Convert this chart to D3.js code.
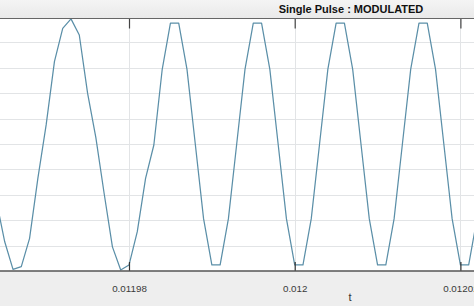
<!DOCTYPE html>
<html>
<head>
<meta charset="utf-8">
<script src="https://cdn.jsdelivr.net/npm/d3@7"></script>
<style>
  html, body { margin: 0; padding: 0; background: #ffffff; }
  svg { display: block; }
</style>
</head>
<body>
<svg id="chart" width="474" height="306"></svg>
<script>
// ---- data ----
const title = "Single Pulse : MODULATED";
const xLabel = "t";
const times = [
  0.011964, 0.011965, 0.011966, 0.011967, 0.011968, 0.011969, 0.011970, 0.011971,
  0.011972, 0.011973, 0.011974, 0.011975, 0.011976, 0.011977, 0.011978, 0.011979,
  0.011980, 0.011981, 0.011982, 0.011983, 0.011984, 0.011985, 0.011986, 0.011987,
  0.011988, 0.011989, 0.011990, 0.011991, 0.011992, 0.011993, 0.011994, 0.011995,
  0.011996, 0.011997, 0.011998, 0.011999, 0.012000, 0.012001, 0.012002, 0.012003,
  0.012004, 0.012005, 0.012006, 0.012007, 0.012008, 0.012009, 0.012010, 0.012011,
  0.012012, 0.012013, 0.012014, 0.012015, 0.012016, 0.012017, 0.012018, 0.012019,
  0.012020, 0.012021, 0.012022
];
const values = [
  -0.45, -0.77, -0.987, -0.966, -0.743, -0.27, 0.15, 0.648,
  0.911, 0.985, 0.858, 0.40, 0.05, -0.39, -0.81, -0.992,
  -0.953, -0.69, -0.27, -0.008, 0.583, 0.951, 0.951, 0.588,
  0.0, -0.588, -0.951, -0.951, -0.588, 0.0, 0.588, 0.951,
  0.951, 0.588, 0.0, -0.588, -0.951, -0.951, -0.588, 0.0,
  0.588, 0.951, 0.951, 0.588, 0.0, -0.588, -0.951, -0.951,
  -0.588, 0.0, 0.588, 0.951, 0.951, 0.588, 0.0, -0.588,
  -0.951, -0.951, -0.588
];
const xTickValues = [0.01198, 0.012, 0.01202];
const xTickLabels = ["0.01198", "0.012", "0.01202"];
const yGridValues = [-0.8, -0.6, -0.4, -0.2, 0, 0.2, 0.4, 0.6, 0.8];

// ---- layout ----
const W = 474, H = 306;
const plotTop = 18.5, plotBottom = 271;
const svg = d3.select("#chart");

const x = d3.scaleLinear().domain([0.01198, 0.01202]).range([129, 460.4]);
const y = d3.scaleLinear().domain([-1, 1]).range([271, 17]);

// backgrounds
svg.append("rect").attr("x", 0).attr("y", 0).attr("width", W).attr("height", H).attr("fill", "#ffffff");
const grad = svg.append("defs").append("linearGradient").attr("id", "hdr").attr("x1", 0).attr("y1", 0).attr("x2", 0).attr("y2", 1);
grad.append("stop").attr("offset", "0%").attr("stop-color", "#f4f4f4");
grad.append("stop").attr("offset", "100%").attr("stop-color", "#e9e9e9");
svg.append("rect").attr("x", 0).attr("y", 0).attr("width", W).attr("height", plotTop).attr("fill", "url(#hdr)");
svg.append("rect").attr("x", 0).attr("y", plotBottom).attr("width", W).attr("height", H - plotBottom).attr("fill", "#eeeeee");

svg.select("defs").append("clipPath").attr("id", "plotclip")
  .append("rect").attr("x", 0).attr("y", plotTop).attr("width", W).attr("height", plotBottom - plotTop);

// grid
const grid = svg.append("g").attr("clip-path", "url(#plotclip)");
grid.selectAll("line.hg").data(yGridValues).enter().append("line")
  .attr("x1", 0).attr("x2", W)
  .attr("y1", d => Math.round(y(d)) + 0.5).attr("y2", d => Math.round(y(d)) + 0.5)
  .attr("stroke", "#e2e4e6").attr("stroke-width", 1);
grid.selectAll("line.vg").data(xTickValues).enter().append("line")
  .attr("x1", d => Math.round(x(d)) + 0.5).attr("x2", d => Math.round(x(d)) + 0.5)
  .attr("y1", plotTop).attr("y2", plotBottom)
  .attr("stroke", "#e2e4e6").attr("stroke-width", 1);

// signal
const pts = times.map((t, i) => [t, values[i]]);
const line = d3.line().x(d => x(d[0])).y(d => y(d[1]));
svg.append("g").attr("clip-path", "url(#plotclip)")
  .append("path").datum(pts)
  .attr("d", line)
  .attr("fill", "none")
  .attr("stroke", "#5b8fa8")
  .attr("stroke-width", 1.25)
  .attr("stroke-linejoin", "round");

// top border + ticks
const topAxis = d3.axisTop(x).tickValues(xTickValues).tickSizeInner(-10).tickSizeOuter(0).tickFormat("");
const gTop = svg.append("g").attr("transform", `translate(0,${plotTop})`).call(topAxis);
gTop.select(".domain").remove();
gTop.selectAll(".tick line").attr("stroke", "#444").attr("stroke-width", 1.2)
  .attr("transform", function() { return null; });
svg.append("line").attr("x1", 0).attr("x2", W).attr("y1", plotTop).attr("y2", plotTop)
  .attr("stroke", "#666").attr("stroke-width", 1);

// bottom axis
const bottomAxis = d3.axisBottom(x).tickValues(xTickValues).tickSizeInner(-9).tickSizeOuter(0)
  .tickPadding(14).tickFormat((d, i) => xTickLabels[i]);
const gBot = svg.append("g").attr("transform", `translate(0,${plotBottom})`).call(bottomAxis);
gBot.select(".domain").remove();
gBot.selectAll(".tick line").attr("stroke", "#333").attr("stroke-width", 1.2);
gBot.selectAll(".tick text")
  .attr("font-family", "Liberation Sans, Arial, sans-serif")
  .attr("font-size", "9.8px").attr("fill", "#3a3a3a");
svg.append("line").attr("x1", 0).attr("x2", W).attr("y1", plotBottom).attr("y2", plotBottom)
  .attr("stroke", "#555").attr("stroke-width", 1.3);

// x label
svg.append("text").attr("x", 350).attr("y", 301)
  .attr("text-anchor", "middle")
  .attr("font-family", "Liberation Sans, Arial, sans-serif")
  .attr("font-size", "11px").attr("fill", "#333")
  .text(xLabel);

// title
svg.append("text").attr("x", 351).attr("y", 13.3)
  .attr("text-anchor", "middle")
  .attr("font-family", "Liberation Sans, Arial, sans-serif")
  .attr("font-weight", "bold")
  .attr("font-size", "11px").attr("fill", "#111")
  .text(title);
</script>
</body>
</html>
